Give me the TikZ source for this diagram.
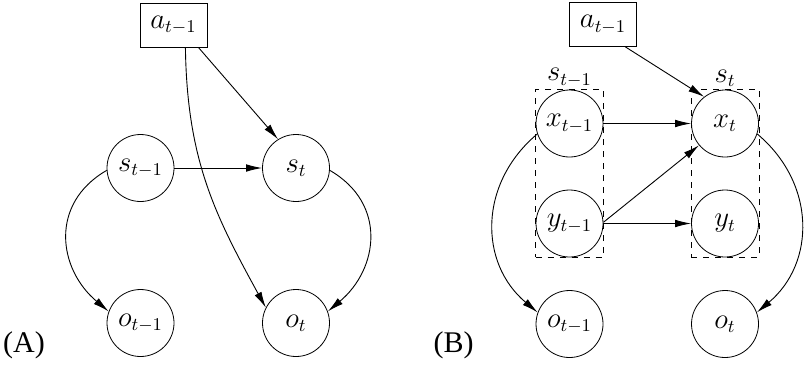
\documentclass[tikz,border=0pt]{standalone}
\usepackage{fontspec}
\usepackage{tikz}
\usetikzlibrary{arrows.meta,positioning,fit}
\newfontfamily\panelfont{Liberation Serif}
\tikzset{
  var/.style={circle, draw=black, minimum size=33.5pt, inner sep=0pt,
    font=\fontsize{13.5}{16}\selectfont},
  act/.style={rectangle, draw=black, minimum width=33.5pt, minimum height=22pt,
    inner sep=0pt, font=\fontsize{13.5}{16}\selectfont},
  group/.style={rectangle, draw=black, dashed, inner sep=0pt},
  panel/.style={font=\panelfont\fontsize{15}{18}\selectfont, inner sep=0pt},
  dbnarrow/.style={-{Latex[length=8pt,width=3.8pt]}, line width=0.45pt}
}
\begin{document}
\begin{tikzpicture}[x=0.5pt,y=-0.5pt]
\useasboundingbox (0,0) rectangle (806,365);
% (A) flat state
\node[act] (aA) at (173.5,25) {$a_{t-1}$};
\node[var] (spA) at (140.5,168) {$s_{t-1}$};
\node[var] (stA) at (296,168) {$s_t$};
\node[var] (opA) at (140.5,323) {$o_{t-1}$};
\node[var] (otA) at (296,323) {$o_t$};
\node[panel] (labA) at (24,345) {(A)};
\draw[dbnarrow] (aA.-42) -- (stA.122);
\draw[dbnarrow] (aA.-62) .. controls (187,160) and (215,215) .. (otA.153);
\draw[dbnarrow] (spA) -- (stA);
\draw[dbnarrow] (spA.184) to[out=210,in=140,looseness=1.2] (opA.160);
\draw[dbnarrow] (stA.-4) to[out=-30,in=40,looseness=1.2] (otA.20);
% (B) factored state
\node[act] (aB) at (603,24.5) {$a_{t-1}$};
\node[var] (xpB) at (569.5,123.5) {$x_{t-1}$};
\node[var] (ypB) at (569.5,223.5) {$y_{t-1}$};
\node[var] (opB) at (569.5,324) {$o_{t-1}$};
\node[var] (xtB) at (725,123.5) {$x_t$};
\node[var] (ytB) at (725,223.5) {$y_t$};
\node[var] (otB) at (725,324) {$o_t$};
\node[group, fit=(xpB) (ypB),
  label={[inner sep=1pt, font=\fontsize{13.5}{16}\selectfont]above:$s_{t-1}$}] (boxp) {};
\node[group, fit=(xtB) (ytB),
  label={[inner sep=1pt, font=\fontsize{13.5}{16}\selectfont]above:$s_t$}] (boxt) {};
\node[panel] (labB) at (453.5,345) {(B)};
\draw[dbnarrow] (aB.-45) -- (xtB.128);
\draw[dbnarrow] (xpB) -- (xtB);
\draw[dbnarrow] (ypB.2) -- (xtB.-140);
\draw[dbnarrow] (ypB) -- (ytB);
\draw[dbnarrow] (xpB.198) to[out=220,in=140,looseness=1.1] (opB.160);
\draw[dbnarrow] (xtB.-18) to[out=-40,in=40,looseness=1.1] (otB.20);
\end{tikzpicture}
\end{document}
